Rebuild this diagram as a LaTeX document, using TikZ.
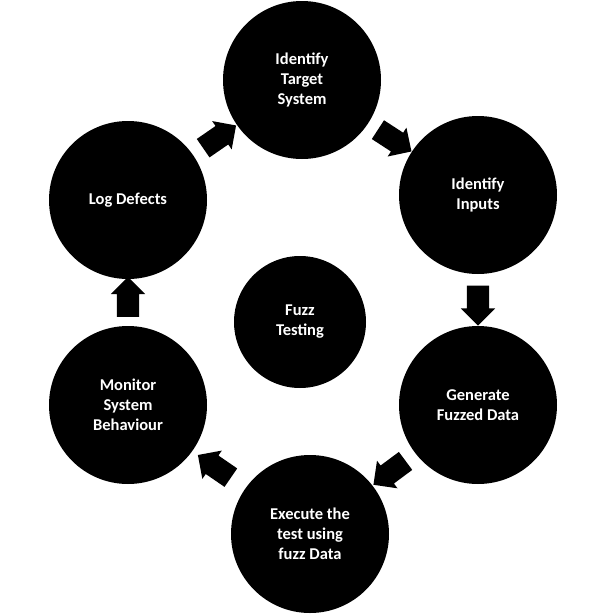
\documentclass[tikz,border=0pt]{standalone}
\usepackage{fontspec}
\setmainfont{Carlito}
\usetikzlibrary{shapes.arrows,calc}
\begin{document}
\begin{tikzpicture}[x=1pt,y=-1pt,
  stage/.style={circle,fill=black,minimum size=158pt,inner sep=0pt,text=white,font=\bfseries\fontsize{16.5}{20}\selectfont,align=center},
  blk/.style={single arrow,fill=black,minimum height=40pt,single arrow head extend=6pt,inner sep=0pt,anchor=center}]
\useasboundingbox (0,0) rectangle (606,616);
\node[stage] (t) at (302,80) {Identify\\Target\\System};
\node[stage] (i) at (478,195) {Identify\\Inputs};
\node[stage] (g) at (478,405) {Generate\\Fuzzed Data};
\node[stage] (e) at (310,534) {Execute the\\test using\\fuzz Data};
\node[stage] (m) at (128,405) {Monitor\\System\\Behaviour};
\node[stage] (l) at (128,200) {Log Defects};
\node[stage,minimum size=132pt] (f) at (300,322) {Fuzz\\Testing};
\node[blk,rotate=34.6] at ($(l)!0.5!(t)$) {\rule{0pt}{22pt}};
\node[blk,rotate=-33] at ($(t)!0.5!(i)$) {\rule{0pt}{22pt}};
\node[blk,rotate=-90] at ($(i)!0.5!(g)$) {\rule{0pt}{22pt}};
\node[blk,rotate=216.6] at ($(g)!0.5!(e)$) {\rule{0pt}{22pt}};
\node[blk,rotate=145.5] at ($(e)!0.5!(m)$) {\rule{0pt}{22pt}};
\node[blk,rotate=90] at ($(m)!0.5!(l)$) {\rule{0pt}{22pt}};
\end{tikzpicture}
\end{document}
